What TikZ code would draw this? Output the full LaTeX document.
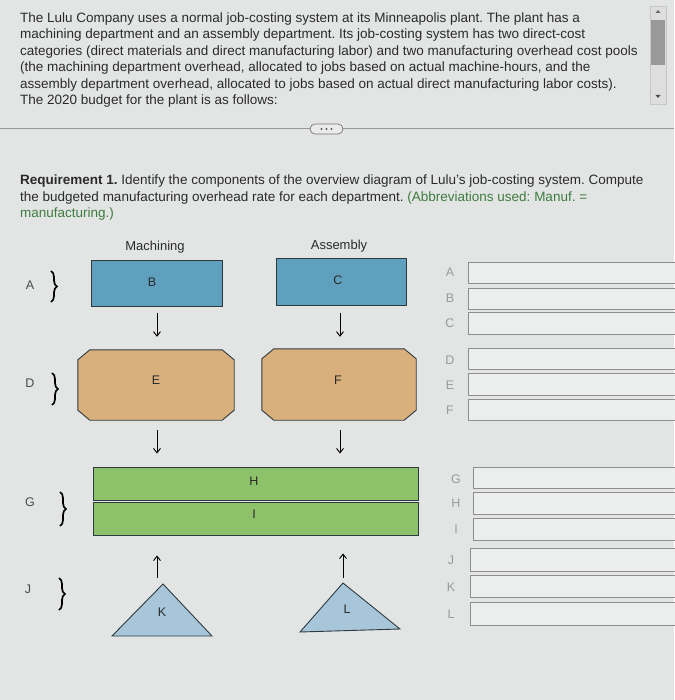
\documentclass[tikz,border=0pt]{standalone}
\usepackage{fontspec}
\setmainfont{Liberation Sans}
\usetikzlibrary{decorations.pathreplacing,arrows.meta}
\frenchspacing
\definecolor{bg}{HTML}{E3E5E5}
\definecolor{txt}{HTML}{2A2A2A}
\definecolor{grn}{HTML}{3E7B3E}
\definecolor{bluebox}{HTML}{5FA0BE}
\definecolor{tanbox}{HTML}{D9B07C}
\definecolor{greenbox}{HTML}{8DC26B}
\definecolor{tribox}{HTML}{A7C6DA}
\definecolor{edge}{HTML}{2E3A40}
\definecolor{lettergray}{HTML}{9A9A9A}
\definecolor{ansfill}{HTML}{ECEDED}
\definecolor{ansedge}{HTML}{8E8E8E}
\begin{document}
\begin{tikzpicture}[x=1pt,y=-1pt,
  body/.style={anchor=base west, inner sep=0pt, text=txt, font=\fontsize{13.5}{15}\selectfont},
  head/.style={inner sep=0pt, text=txt, font=\fontsize{13}{15}\selectfont},
  boxlbl/.style={inner sep=0pt, text=txt, font=\fontsize{12.5}{14}\selectfont},
  blk/.style={draw=edge, line width=0.9pt, inner sep=0pt, text=txt},
  bluerect/.style={blk, fill=bluebox},
  greenrect/.style={blk, fill=greenbox},
  ghost/.style={inner sep=0pt, draw=none},
  arr/.style={line width=0.9pt, -{Straight Barb[length=4.5pt,width=7pt]}},
  brc/.style={line width=1.7pt, decorate, decoration={brace, amplitude=6pt}},
  sidelbl/.style={inner sep=0pt, text=txt!85, font=\fontsize{12.5}{14}\selectfont},
  ansletter/.style={inner sep=0pt, text=lettergray, font=\fontsize{12.5}{14}\selectfont},
  ansbox/.style={draw=ansedge, fill=ansfill, line width=0.8pt}
]
\useasboundingbox (0,0) rectangle (674,700);
\fill[bg] (0,0) rectangle (674,700);

% top paragraph
\node[body] (t1) at (20,22.5) {The Lulu Company uses a normal job-costing system at its Minneapolis plant. The plant has a};
\node[body] (t2) at (20,39) {machining department and an assembly department. Its job-costing system has two direct-cost};
\node[body] (t3) at (20,55.5) {categories (direct materials and direct manufacturing labor) and two manufacturing overhead cost pools};
\node[body] (t4) at (20,72) {(the machining department overhead, allocated to jobs based on actual machine-hours, and the};
\node[body] (t5) at (20,88.5) {assembly department overhead, allocated to jobs based on actual direct manufacturing labor costs).};
\node[body] (t6) at (20,105) {The 2020 budget for the plant is as follows:};

% scrollbar
\filldraw[fill=black!13, draw=black!22, line width=0.5pt] (650,6) rectangle (666,104);
\fill[black!40] (651,20) rectangle (665,65);
\fill[black!60] (655.5,13) -- (660.5,13) -- (658,10) -- cycle;
\fill[black!70] (655.5,95) -- (660.5,95) -- (658,98) -- cycle;

% separator
\draw[black!40, line width=0.8pt] (0,128) -- (674,128);
\node[draw=black!55, fill=black!8, rounded corners=5pt, minimum width=33pt, minimum height=10pt, inner sep=0pt, line width=0.7pt] (pill) at (326.5,129) {};
\foreach \dx in {-5,0,5} \fill[black!65] ([xshift=\dx pt]pill.center) circle (1.2pt);

% requirement
\node[body] (r1) at (20,185) {\textbf{Requirement 1.} Identify the components of the overview diagram of Lulu's job-costing system. Compute};
\node[body] (r2) at (20,201.5) {the budgeted manufacturing overhead rate for each department. \textcolor{grn}{(Abbreviations used: Manuf. =}};
\node[body, text=grn] (r3) at (20,218) {manufacturing.)};

% column headers
\node[head] (hm) at (155,247) {Machining};
\node[head] (ha) at (339,246) {Assembly};

% row 1 boxes
\node[bluerect, minimum width=131pt, minimum height=46pt] (B) at (156.5,283) {};
\node[boxlbl] at (152,282) {B};
\node[bluerect, minimum width=130pt, minimum height=47pt] (C) at (341,281.5) {};
\node[boxlbl] at (338,280) {C};

% row 2 octagons
\node[ghost, minimum width=156pt, minimum height=70pt] (E) at (156,385) {};
\node[ghost, minimum width=154pt, minimum height=71pt] (F) at (339,384.5) {};
\foreach \n in {E,F}{
  \filldraw[fill=tanbox, draw=edge, line width=0.9pt]
    ([xshift=12pt]\n.north west) -- ([xshift=-12pt]\n.north east) -- ([yshift=-10pt]\n.north east)
    -- ([yshift=10pt]\n.south east) -- ([xshift=-12pt]\n.south east) -- ([xshift=12pt]\n.south west)
    -- ([yshift=10pt]\n.south west) -- ([yshift=-10pt]\n.north west) -- cycle;
}
\node[boxlbl] at (156,380) {E};
\node[boxlbl] at (338,380) {F};

% row 3 green bars
\node[greenrect, minimum width=325pt, minimum height=33pt] (H) at (255.5,483.5) {};
\node[greenrect, minimum width=325pt, minimum height=33pt] (I) at (255.5,518.5) {};
\node[boxlbl] at (254,481) {H};
\node[boxlbl] at (254,514) {I};

% triangles
\coordinate (Kapex) at (163,584);
\coordinate (Lapex) at (343,583);
\filldraw[fill=tribox, draw=edge, line width=0.9pt] (Kapex) -- (212,636) -- (112,636) -- cycle;
\filldraw[fill=tribox, draw=edge, line width=0.9pt] (Lapex) -- (400,629) -- (300,632) -- cycle;
\node[boxlbl] (K) at (162,612) {K};
\node[boxlbl] (L) at (347,609) {L};

% arrows
\draw[arr, shorten <=7pt, shorten >=13pt] (B.south -| 157,0) -- (E.north -| 157,0);
\draw[arr, shorten <=8pt, shorten >=12pt] (C.south -| 340,0) -- (F.north -| 340,0);
\draw[arr, shorten <=10pt, shorten >=13pt] (E.south -| 157,0) -- (H.north -| 157,0);
\draw[arr, shorten <=10pt, shorten >=13pt] (F.south -| 340,0) -- (H.north -| 340,0);
\draw[arr, shorten <=6pt, shorten >=20pt] (Kapex -| 157,0) -- (I.south -| 157,0);
\draw[arr, shorten <=5pt, shorten >=18pt] (Lapex) -- (Lapex |- I.south);

% side labels and braces
\node[sidelbl] (lA) at (30,285) {A};
\node[sidelbl] (lD) at (30,383) {D};
\node[sidelbl] (lG) at (30,502) {G};
\node[sidelbl] (lJ) at (28,589) {J};
\coordinate (bA1) at (51,271); \coordinate (bA2) at (51,302);
\coordinate (bD1) at (52,373); \coordinate (bD2) at (52,405);
\coordinate (bG1) at (60,492); \coordinate (bG2) at (60,526);
\coordinate (bJ1) at (59,578); \coordinate (bJ2) at (59,610);
\draw[brc] (bA1) -- (bA2);
\draw[brc] (bD1) -- (bD2);
\draw[brc] (bG1) -- (bG2);
\draw[brc] (bJ1) -- (bJ2);

% answer column
\foreach \L/\x/\y/\bx/\ya/\yb in {A/450/272/468/262/283, B/450/298/468/288/309, C/450/323/468/312/334,
   D/450/360/468/348/369, E/450/385/468/373/395, F/450/410/468/399/420,
   G/456/479/473/467/488, H/456/503/473/492/514, I/456/529/473/518/540,
   J/451/560/470/548/571, K/451/587/470/575/597, L/451/614/470/602/625}{
  \node[ansletter] (q\L) at (\x,\y) {\L};
  \draw[ansbox] (\bx,\ya) rectangle (680,\yb);
}
\end{tikzpicture}
\end{document}
